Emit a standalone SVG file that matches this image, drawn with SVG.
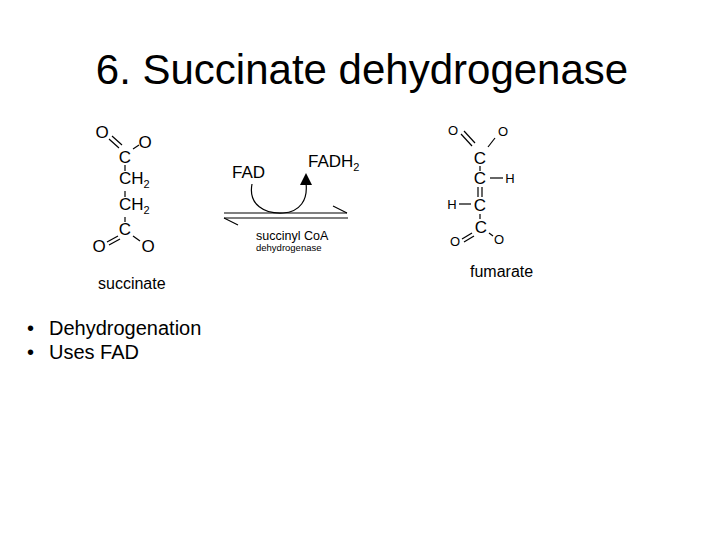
<svg xmlns="http://www.w3.org/2000/svg" width="728" height="546" viewBox="0 0 728 546">
<style>
text{font-family:"Liberation Sans",Arial,sans-serif;fill:#000}
.a{font-size:17px;text-anchor:middle}
.f{font-size:13px;text-anchor:middle}
line,path{stroke:#000;stroke-width:1.2;fill:none}
</style>
<rect width="728" height="546" fill="#fff"/>
<text x="362" y="84" style="font-size:42px" text-anchor="middle">6. Succinate dehydrogenase</text>
<g id="succinate">
<text class="a" x="102" y="138">O</text>
<text class="a" x="145" y="148">O</text>
<text class="a" x="125" y="163">C</text>
<text x="119" y="184" style="font-size:17px">CH<tspan style="font-size:11px" dy="4">2</tspan></text>
<text x="119" y="210" style="font-size:17px">CH<tspan style="font-size:11px" dy="4">2</tspan></text>
<text class="a" x="125" y="235">C</text>
<text class="a" x="99" y="252">O</text>
<text class="a" x="148" y="252">O</text>
<line x1="109" y1="139" x2="119" y2="148"/><line x1="112" y1="136" x2="122" y2="145"/>
<line x1="133" y1="149" x2="139" y2="145"/>
<line x1="125" y1="165" x2="125" y2="171"/>
<line x1="125" y1="191" x2="125" y2="197"/>
<line x1="125" y1="217" x2="125" y2="222"/>
<line x1="107" y1="242" x2="118" y2="236"/><line x1="109" y1="245" x2="120" y2="239"/>
<line x1="133" y1="236" x2="140" y2="241"/>
<text x="98" y="289" style="font-size:16px">succinate</text>
</g>
<g id="fumarate">
<text class="f" x="453" y="135">O</text>
<text class="f" x="503" y="136">O</text>
<text class="a" x="480" y="164">C</text>
<text class="a" x="480" y="184">C</text>
<text class="f" x="510" y="183">H</text>
<text class="f" x="452" y="209">H</text>
<text class="a" x="480" y="211">C</text>
<text class="a" x="481" y="233">C</text>
<text class="f" x="455" y="246">O</text>
<text class="f" x="499" y="244">O</text>
<line x1="461" y1="134" x2="472" y2="146"/><line x1="464" y1="131" x2="475" y2="143"/>
<line x1="488" y1="147" x2="495" y2="138"/>
<line x1="480" y1="166" x2="480" y2="171"/>
<line x1="490" y1="178" x2="503" y2="178"/>
<line x1="478" y1="187" x2="478" y2="197"/><line x1="482" y1="187" x2="482" y2="197"/>
<line x1="459" y1="204" x2="471" y2="204"/>
<line x1="480" y1="214" x2="480" y2="219"/>
<line x1="462" y1="239" x2="472" y2="233"/><line x1="464" y1="242" x2="474" y2="236"/>
<line x1="489" y1="233" x2="493" y2="236"/>
<text x="470" y="277" style="font-size:16px">fumarate</text>
</g>
<g id="reaction">
<text x="232" y="178" style="font-size:17px">FAD</text>
<text x="308" y="167" style="font-size:17px">FADH<tspan style="font-size:11px" dy="4">2</tspan></text>
<text x="256" y="240" style="font-size:12.5px">succinyl CoA</text>
<text x="256" y="251" style="font-size:9.5px">dehydrogenase</text>
</g>
<g id="connectors">
<line x1="224" y1="213" x2="347" y2="213"/>
<line x1="347" y1="213" x2="333" y2="206"/>
<line x1="224" y1="218" x2="348" y2="218"/>
<line x1="224" y1="218" x2="238" y2="225"/>
<path d="M252 184 C248 205 265 214 283 213 C300 212 308 200 306 183"/>
<polygon points="306,173 300,185 312,185" fill="#000"/>
</g>
<g id="bullets" style="font-size:20px">
<text x="27" y="335">•</text><text x="49" y="335">Dehydrogenation</text>
<text x="27" y="359">•</text><text x="49" y="359">Uses FAD</text>
</g>
</svg>
